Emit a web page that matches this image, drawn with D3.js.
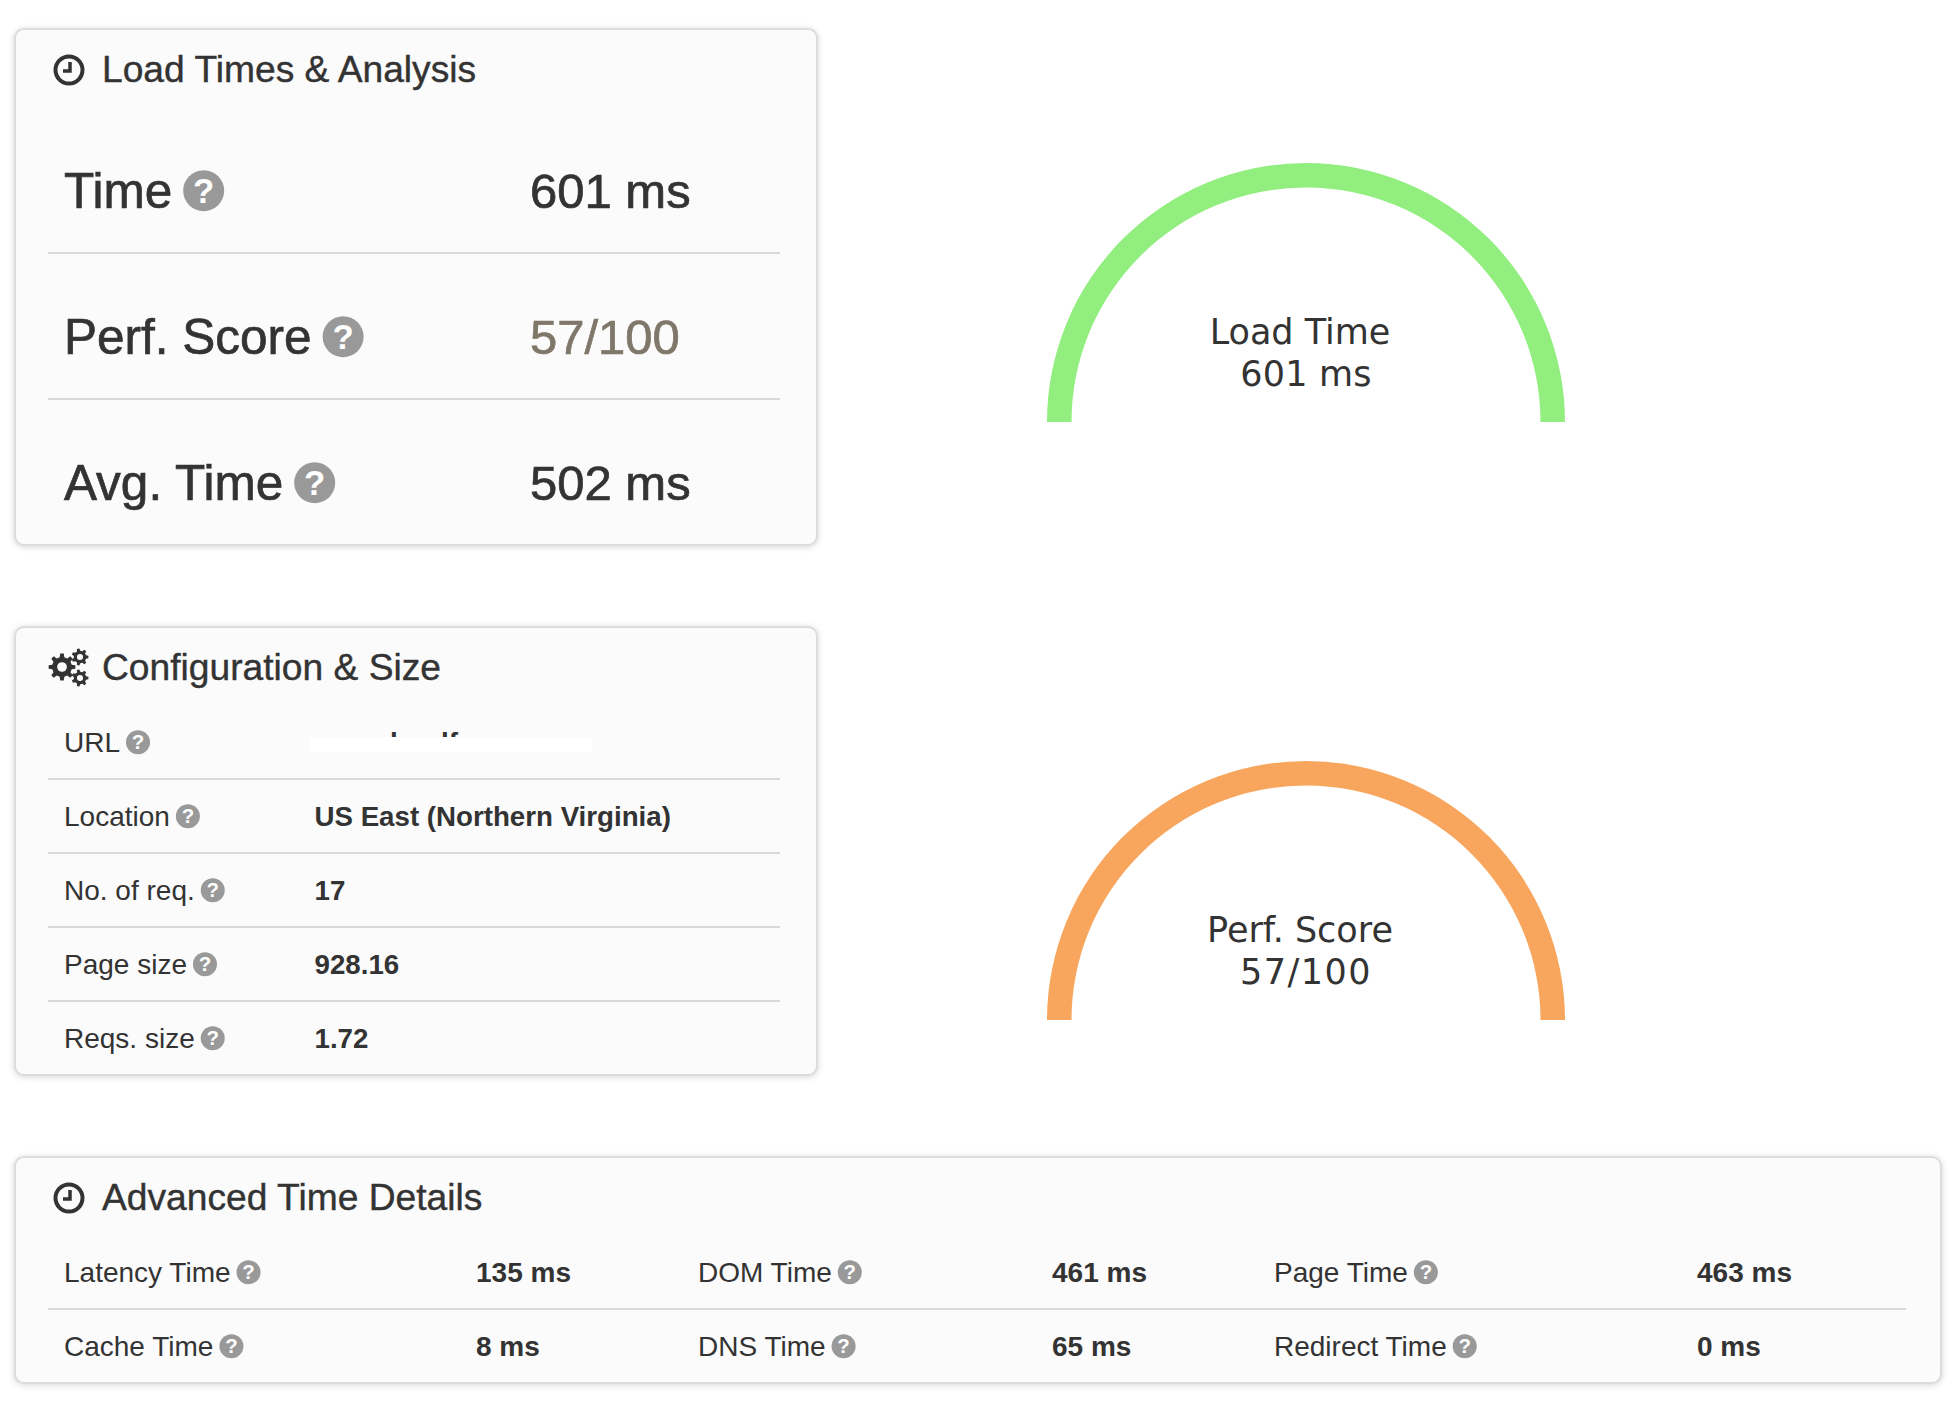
<!DOCTYPE html>
<html>
<head>
<meta charset="utf-8">
<title>Load Times &amp; Analysis</title>
<script src="https://cdn.jsdelivr.net/npm/d3@7"></script>
<style>
	html, body { margin: 0; padding: 0; background: #fff; }
	svg { display: block; }
	text { font-family: "Liberation Sans", Arial, sans-serif; fill: #333; }
	.panel { fill: #fbfbfb; stroke: #dcdcdc; stroke-width: 2; filter: drop-shadow(0 1px 3px rgba(0,0,0,.16)); }
	.divider { stroke: #d9d9d9; stroke-width: 2; }
	.help { fill: #999; }
	.help-mark { fill: #fff; font-weight: bold; text-anchor: middle; }
	.medium { stroke-width: 0.7px; }
	.gauge-text { font-family: "DejaVu Sans", sans-serif; text-anchor: middle; font-size: 35px; fill: #333; }
</style>
</head>
<body>
<svg id="chart"></svg>
<script>
'use strict';

var WIDTH = 1954,
	HEIGHT = 1404;

var summaryLabels = ['Time', 'Perf. Score', 'Avg. Time'];
var summaryValues = ['601 ms', '57/100', '502 ms'];
var summaryColors = ['#333', '#7f7769', '#333'];

var configLabels = ['URL', 'Location', 'No. of req.', 'Page size', 'Reqs. size'];
var configValues = ['', 'US East (Northern Virginia)', '17', '928.16', '1.72'];

var detailLabels = [
	['Latency Time', 'DOM Time', 'Page Time'],
	['Cache Time', 'DNS Time', 'Redirect Time']
];
var detailValues = [
	['135 ms', '461 ms', '463 ms'],
	['8 ms', '65 ms', '0 ms']
];

var gaugeTitles = ['Load Time', 'Perf. Score'];
var gaugeReadings = ['601 ms', '57/100'];
var gaugeFill = [1, 1];
var gaugeColors = ['#93ee80', '#f8a65e'];
var gaugeSpacing = [0.2, 1.5];

var svg = d3.select('#chart')
	.attr('width', WIDTH)
	.attr('height', HEIGHT);

// panels
drawPanel(15, 29, 802, 516);
drawPanel(15, 627, 802, 448);
drawPanel(15, 1157, 1926, 226);

// headings
drawHeading(102, 82, 'Load Times & Analysis');
drawHeading(102, 680, 'Configuration & Size');
drawHeading(102, 1210, 'Advanced Time Details');
drawClock(69, 70);
drawClock(69, 1198);
drawGear(62, 667, 13.5, 8);
drawGear(80, 657, 8.5, 7);
drawGear(80, 678, 8.5, 7);

// load times table
var summaryY = d3.scaleLinear().domain([0, summaryLabels.length - 1]).range([208, 500]);

summaryLabels.forEach(function (label, i) {
	drawLabel(64, summaryY(i), label, 49.5, 20.5, 11, true);
	svg.append('text')
		.attr('class', 'medium')
		.attr('x', 530)
		.attr('y', summaryY(i))
		.style('font-size', '49px')
		.style('fill', summaryColors[i])
		.style('stroke', summaryColors[i])
		.text(summaryValues[i]);
	if (i < summaryLabels.length - 1) drawDivider(48, 780, summaryY(i) + 45);
});

// configuration table
var configY = d3.scaleLinear().domain([0, configLabels.length - 1]).range([752, 1048]);

configLabels.forEach(function (label, i) {
	drawLabel(64, configY(i), label, 28, 12, 6, false);
	svg.append('text')
		.attr('x', 314.5)
		.attr('y', configY(i))
		.style('font-size', '27.7px')
		.style('font-weight', 'bold')
		.text(configValues[i]);
	if (i < configLabels.length - 1) drawDivider(48, 780, configY(i) + 27);
});

// the address is blanked out in the picture, only the tops of a few letters remain
svg.append('g')
	.selectAll('text')
	.data(['l', 'lf'])
	.join('text')
	.attr('x', function (d, i) { return 390 + i * 51; })
	.attr('y', 752)
	.style('font-size', '28px')
	.style('font-weight', 'bold')
	.text(function (d) { return d; });

svg.append('rect')
	.attr('x', 310)
	.attr('y', 737)
	.attr('width', 282)
	.attr('height', 15)
	.style('fill', '#fff');

// advanced details table
var detailY = d3.scaleLinear().domain([0, detailLabels.length - 1]).range([1282, 1356]);
var labelX = [64, 698, 1274];
var valueX = [476, 1052, 1697];

detailLabels.forEach(function (row, r) {
	row.forEach(function (label, c) {
		drawLabel(labelX[c], detailY(r), label, 28, 12, 6, false);
		svg.append('text')
			.attr('x', valueX[c])
			.attr('y', detailY(r))
			.style('font-size', '28px')
			.style('font-weight', 'bold')
			.text(detailValues[r][c]);
	});
});
drawDivider(48, 1906, detailY(0) + 27);

// gauges
var gaugeCenterY = d3.scaleLinear().domain([0, gaugeTitles.length - 1]).range([422, 1020]);
var gaugeAngle = d3.scaleLinear().domain([0, 1]).range([-Math.PI / 2, Math.PI / 2]);
var gaugeArc = d3.arc()
	.innerRadius(234.5)
	.outerRadius(259)
	.startAngle(gaugeAngle(0));

gaugeTitles.forEach(function (title, i) {
	var g = svg.append('g')
		.attr('transform', 'translate(1306,' + gaugeCenterY(i) + ')');

	g.append('path')
		.attr('d', gaugeArc({ endAngle: gaugeAngle(gaugeFill[i]) }))
		.style('fill', gaugeColors[i]);

	g.append('text')
		.attr('class', 'gauge-text')
		.attr('x', -6)
		.attr('y', -78)
		.text(title);

	g.append('text')
		.attr('class', 'gauge-text')
		.attr('y', -36)
		.style('letter-spacing', gaugeSpacing[i] + 'px')
		.text(gaugeReadings[i]);
});

function drawPanel(x, y, w, h) {
	svg.append('rect')
		.attr('class', 'panel')
		.attr('x', x)
		.attr('y', y)
		.attr('width', w)
		.attr('height', h)
		.attr('rx', 9);
}

function drawHeading(x, y, label) {
	svg.append('text')
		.attr('x', x)
		.attr('y', y)
		.style('font-size', '37.2px')
		.style('stroke', '#333')
		.style('stroke-width', '0.4px')
		.text(label);
}

function drawDivider(x1, x2, y) {
	svg.append('line')
		.attr('class', 'divider')
		.attr('x1', x1)
		.attr('x2', x2)
		.attr('y1', y)
		.attr('y2', y);
}

// label followed by the round question mark
function drawLabel(x, y, label, size, r, gap, heavy) {
	var t = svg.append('text')
		.attr('x', x)
		.attr('y', y)
		.style('font-size', size + 'px')
		.text(label);

	if (heavy) {
		t.attr('class', 'medium').style('stroke', '#333');
	}

	var cx = x + t.node().getComputedTextLength() + gap + r;
	var cy = y - size * 0.35;

	svg.append('circle')
		.attr('class', 'help')
		.attr('cx', cx)
		.attr('cy', cy)
		.attr('r', r);

	svg.append('text')
		.attr('class', 'help-mark')
		.attr('x', cx)
		.attr('y', cy + r * 0.6)
		.style('font-size', (r * 1.7) + 'px')
		.text('?');
}

function drawClock(cx, cy) {
	svg.append('circle')
		.attr('cx', cx)
		.attr('cy', cy)
		.attr('r', 13.5)
		.style('fill', 'none')
		.style('stroke', '#333')
		.style('stroke-width', 4);

	var hands = d3.path();
	hands.moveTo(cx + 1, cy - 8);
	hands.lineTo(cx + 1, cy + 1);
	hands.lineTo(cx - 6, cy + 1);

	svg.append('path')
		.attr('d', hands.toString())
		.style('fill', 'none')
		.style('stroke', '#333')
		.style('stroke-width', 3.5);
}

function drawGear(cx, cy, r, teeth) {
	var step = Math.PI * 2 / teeth;
	var inner = r * 0.74;
	var p = d3.path();

	for (var i = 0; i < teeth; i++) {
		var a = i * step;
		var pts = [
			[inner, a - step * 0.3],
			[r, a - step * 0.17],
			[r, a + step * 0.17],
			[inner, a + step * 0.3]
		];
		pts.forEach(function (q, k) {
			var px = cx + q[0] * Math.cos(q[1]);
			var py = cy + q[0] * Math.sin(q[1]);
			if (i === 0 && k === 0) p.moveTo(px, py);
			else p.lineTo(px, py);
		});
	}
	p.closePath();

	svg.append('path')
		.attr('d', p.toString())
		.style('fill', '#333');

	svg.append('circle')
		.attr('cx', cx)
		.attr('cy', cy)
		.attr('r', r * 0.36)
		.style('fill', '#fbfbfb');
}
</script>
</body>
</html>
